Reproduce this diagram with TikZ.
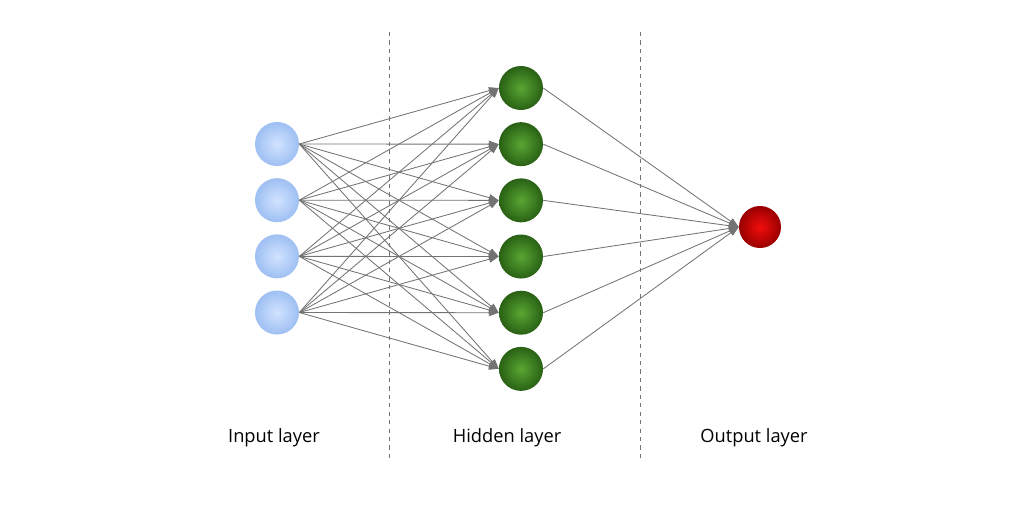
\documentclass[tikz,border=0pt]{standalone}
\usepackage{fontspec}
\setmainfont{Open Sans}
\usetikzlibrary{positioning,arrows.meta}
\definecolor{inblue}{rgb}{0.62,0.75,0.95}
\definecolor{inbluec}{rgb}{0.82,0.89,1.0}
\definecolor{hidgreen}{rgb}{0.16,0.38,0.08}
\definecolor{hidgreenc}{rgb}{0.35,0.65,0.20}
\definecolor{outred}{rgb}{0.60,0.0,0.0}
\definecolor{outredc}{rgb}{0.95,0.05,0.05}
\definecolor{edgegray}{rgb}{0.45,0.45,0.45}
\begin{document}
\begin{tikzpicture}[x=0.025cm, y=-0.025cm,
    neuron/.style={circle, minimum size=1.1cm, inner sep=0pt, shading=radial},
    inneuron/.style={neuron, inner color=inbluec, outer color=inblue},
    hidneuron/.style={neuron, inner color=hidgreenc, outer color=hidgreen},
    outneuron/.style={neuron, inner color=outredc, outer color=outred, minimum size=1.05cm},
    link/.style={-{Triangle[length=7pt,width=5pt]}, edgegray, line width=0.6pt},
    layer/.style={font=\fontsize{13}{15}\selectfont}]
    \useasboundingbox (0,0) rectangle (1024,519);

    % Input layer
    \node (in1) [inneuron] at (277,144) {};
    \node (in2) [inneuron, below=0.29cm of in1] {};
    \node (in3) [inneuron, below=0.29cm of in2] {};
    \node (in4) [inneuron, below=0.29cm of in3] {};

    % Hidden layer
    \node (hid1) [hidneuron] at (521,88) {};
    \node (hid2) [hidneuron, below=0.29cm of hid1] {};
    \node (hid3) [hidneuron, below=0.29cm of hid2] {};
    \node (hid4) [hidneuron, below=0.29cm of hid3] {};
    \node (hid5) [hidneuron, below=0.29cm of hid4] {};
    \node (hid6) [hidneuron, below=0.29cm of hid5] {};

    % Output layer
    \node (out) [outneuron] at (760,227) {};

    % Separators
    \coordinate (sepa1) at (389,32);
    \coordinate (sepa2) at (389,462);
    \coordinate (sepb1) at (640,32);
    \coordinate (sepb2) at (640,462);
    \draw[dashed, edgegray] (sepa1) -- (sepa2);
    \draw[dashed, edgegray] (sepb1) -- (sepb2);

    % Connections
    \foreach \i in {1,...,4}
      \foreach \h in {1,...,6}
        \draw[link] (in\i.east) -- (hid\h.west);
    \foreach \h in {1,...,6}
      \draw[link] (hid\h.east) -- (out.west);

    % Labels
    \node (lin) [layer] at (274,438) {Input layer};
    \node (lhid) [layer] at (507,438) {Hidden layer};
    \node (lout) [layer] at (754,438) {Output layer};
\end{tikzpicture}
\end{document}
